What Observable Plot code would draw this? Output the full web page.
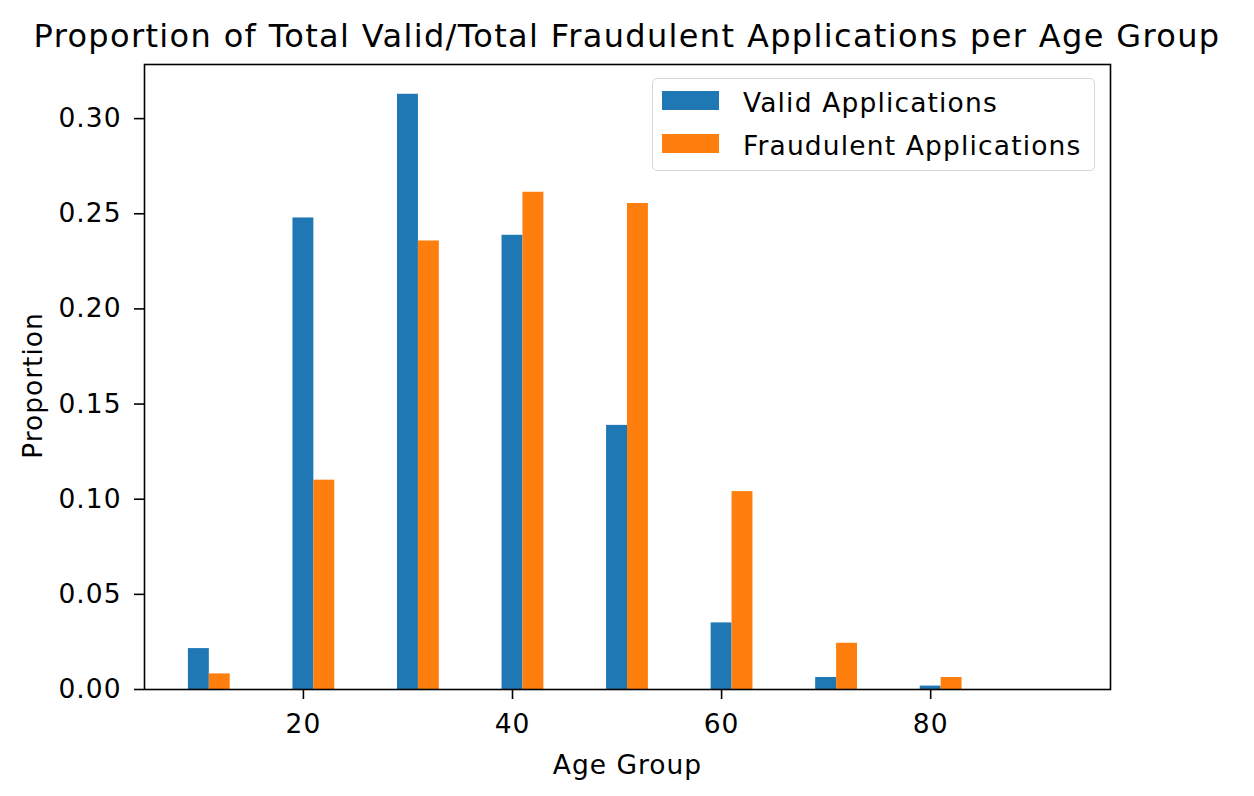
<!DOCTYPE html>
<html>
<head>
<meta charset="utf-8">
<script src="https://cdn.jsdelivr.net/npm/d3@7"></script>
<script src="https://cdn.jsdelivr.net/npm/@observablehq/plot@0.6"></script>
<style>
  html, body { margin: 0; padding: 0; background: white; }
  #wrap { position: relative; width: 1254px; height: 796px; font-family: "DejaVu Sans", sans-serif; color: #000; }
  #title { height: 56px; box-sizing: border-box; padding-top: 19.6px; font-size: 32px; line-height: 32px; letter-spacing: 1.35px; text-align: center; width: 1254px; white-space: nowrap; }
  #legend { position: absolute; left: 652px; top: 78px; width: 443px; height: 93px; box-sizing: border-box; border: 1.5px solid #d6d6d6; border-radius: 5px; background: rgba(255,255,255,0.8); }
  .lg-item { position: absolute; left: 0; font-size: 26.5px; line-height: 1; letter-spacing: 1.15px; white-space: nowrap; }
  .lg-swatch { position: absolute; left: 9px; width: 57px; height: 19px; }
  .lg-label { position: absolute; left: 90px; }
  svg text { letter-spacing: 1px; }
</style>
</head>
<body>
<div id="wrap">
  <div id="title"></div>
  <div id="chart"></div>
  <div id="legend"></div>
</div>
<script>
// ---- data ----
const chartTitle = "Proportion of Total Valid/Total Fraudulent Applications per Age Group";
const xLabel = "Age Group";
const yLabel = "Proportion";
const seriesNames = ["Valid Applications", "Fraudulent Applications"];
const seriesColors = ["#1f77b4", "#ff7f0e"];
const ageGroups = [10, 20, 30, 40, 50, 60, 70, 80, 90];
const validProportion = [0.0215, 0.2478, 0.3128, 0.2387, 0.1388, 0.0350, 0.0063, 0.0018, 0.0];
const fraudProportion = [0.0082, 0.1100, 0.2357, 0.2613, 0.2554, 0.1040, 0.0243, 0.0063, 0.0];
const xTicks = [20, 40, 60, 80];
const yTicks = [0, 0.05, 0.10, 0.15, 0.20, 0.25, 0.30];

// ---- build ----
const barWidth = 2;
const rows = [];
ageGroups.forEach((age, i) => {
  rows.push({age, series: seriesNames[0], value: validProportion[i], x1: age - barWidth / 2, x2: age + barWidth / 2});
  rows.push({age, series: seriesNames[1], value: fraudProportion[i], x1: age + barWidth / 2, x2: age + barWidth * 1.5});
});

const xMin = d3.min(rows, d => d.x1), xMax = d3.max(rows, d => d.x2);
const xPad = (xMax - xMin) * 0.05;
const yMax = d3.max(rows, d => d.value) * 1.05;

document.getElementById("title").textContent = chartTitle;

const chart = Plot.plot({
  width: 1254,
  height: 740,
  marginLeft: 144,
  marginRight: 144,
  marginTop: 8,
  marginBottom: 107,
  style: {fontFamily: "DejaVu Sans, sans-serif", fontSize: "26.5px", background: "white", color: "black", overflow: "visible"},
  x: {domain: [xMin - xPad, xMax + xPad]},
  y: {domain: [0, yMax]},
  color: {domain: seriesNames, range: seriesColors},
  marks: [
    Plot.rectY(rows, {x1: "x1", x2: "x2", y: "value", fill: "series", inset: 0}),
    Plot.frame({stroke: "black", strokeWidth: 1.6}),
    Plot.axisX({ticks: xTicks, tickSize: 10, tickPadding: 15, fontSize: 26.5, strokeWidth: 1.6, label: null, tickFormat: d3.format("d")}),
    Plot.axisY({ticks: yTicks, tickSize: 10, tickPadding: 13, fontSize: 26.5, strokeWidth: 1.6, label: null, tickFormat: d3.format(".2f")}),
    Plot.text([xLabel], {frameAnchor: "bottom", textAnchor: "middle", dy: 84, lineAnchor: "bottom", fontSize: 26.5, fill: "black"}),
    Plot.text([yLabel], {frameAnchor: "left", textAnchor: "middle", dx: -103, dy: 8.5, rotate: -90, lineAnchor: "bottom", fontSize: 26.5, fill: "black"})
  ]
});
document.getElementById("chart").appendChild(chart);

// legend
const legend = document.getElementById("legend");
const rowTops = [12, 55];
seriesNames.forEach((name, i) => {
  const sw = document.createElement("div");
  sw.className = "lg-swatch";
  sw.style.top = rowTops[i] + "px";
  sw.style.background = seriesColors[i];
  legend.appendChild(sw);
  const lb = document.createElement("div");
  lb.className = "lg-item lg-label";
  lb.style.top = (rowTops[i] - 1) + "px";
  lb.textContent = name;
  legend.appendChild(lb);
});
</script>
</body>
</html>
